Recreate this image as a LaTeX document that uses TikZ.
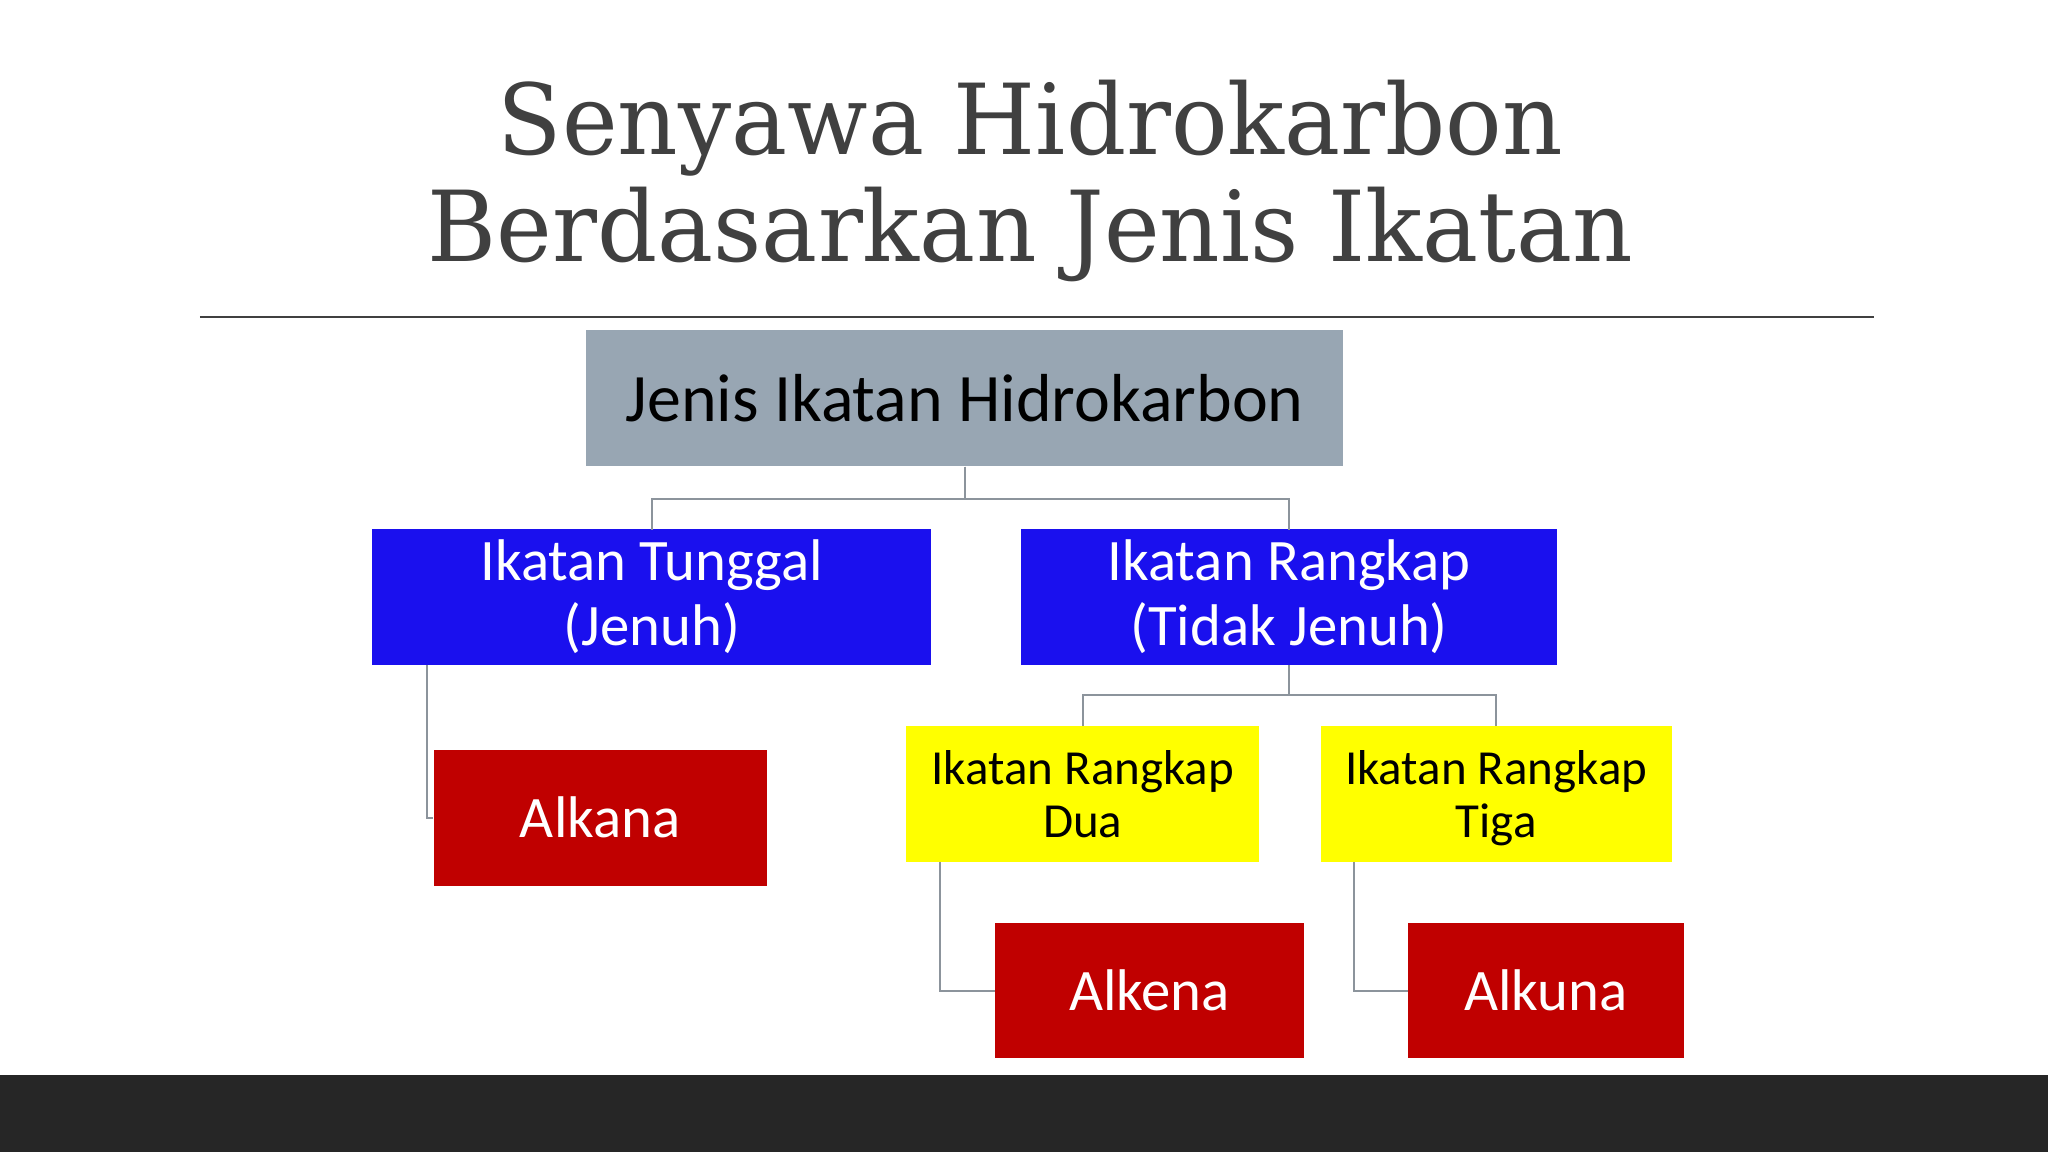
\documentclass[tikz,border=0pt]{standalone}
\usepackage{fontspec}
\setmainfont{Carlito}
\newfontfamily\titlefont[FakeStretch=0.96]{DejaVu Serif}
\definecolor{titlegray}{HTML}{404040}
\definecolor{boxgray}{HTML}{98A6B3}
\definecolor{boxblue}{HTML}{1A10EE}
\definecolor{boxred}{HTML}{C00000}
\definecolor{boxyellow}{HTML}{FFFF00}
\definecolor{linkgray}{HTML}{8C949C}
\definecolor{barcol}{HTML}{262626}
\tikzset{
  box/.style={rectangle, inner sep=0pt, align=center, minimum height=104pt},
  graybox/.style={box, fill=boxgray, text=black, font=\fontsize{52}{60}\selectfont},
  bluebox/.style={box, fill=boxblue, text=white, font=\fontsize{45}{50}\selectfont},
  redbox/.style={box, fill=boxred, text=white, font=\fontsize{45}{50}\selectfont},
  yellowbox/.style={box, fill=boxyellow, text=black, font=\fontsize{37.5}{41}\selectfont},
  link/.style={draw=linkgray, line width=1.6pt},
  titletext/.style={anchor=base, text=titlegray, inner sep=0pt, font=\titlefont\fontsize{75}{82}\selectfont}
}
\begin{document}
\begin{tikzpicture}[x=1pt,y=-1pt]
\useasboundingbox (0,0) rectangle (1568,882);
\fill[white] (0,0) rectangle (1568,882);
\fill[barcol] (0,823) rectangle (1568,882);

\node[titletext] (t1) at (789,118) {Senyawa Hidrokarbon};
\node[titletext] (t2) at (789,200) {Berdasarkan Jenis Ikatan};
\draw[titlegray, line width=1.4pt] (153,243) -- (1435,243);

\node[graybox, minimum width=579pt] (g) at (738.5,305) {Jenis Ikatan Hidrokarbon};
\node[bluebox, minimum width=428pt] (b1) at (499,457) {Ikatan Tunggal\\(Jenuh)};
\node[bluebox, minimum width=410pt] (b2) at (987,457) {Ikatan Rangkap\\(Tidak Jenuh)};
\node[redbox, minimum width=255pt] (alka) at (459.5,626) {Alkana};
\node[yellowbox, minimum width=270pt] (y1) at (829,608) {Ikatan Rangkap\\Dua};
\node[yellowbox, minimum width=269pt] (y2) at (1145.5,608) {Ikatan Rangkap\\\raisebox{0pt}[\height][0pt]{Tiga}};
\node[redbox, minimum width=236pt, minimum height=103pt] (alke) at (880,758.5) {Alkena};
\node[redbox, minimum width=211pt, minimum height=103pt] (alku) at (1183.5,758.5) {Alkuna};

\draw[link] (g.south) -- ++(0,25) -| ([yshift=-1pt]b1.north);
\draw[link] (g.south) -- ++(0,25) -| ([yshift=-1pt]b2.north);
\draw[link] ([xshift=42pt]b1.south west) |- (alka.west);
\draw[link] (b2.south) -- ++(0,23) -| (y1.north);
\draw[link] (b2.south) -- ++(0,23) -| (y2.north);
\draw[link] ([xshift=26pt]y1.south west) |- (alke.west);
\draw[link] ([xshift=26pt]y2.south west) |- (alku.west);
\end{tikzpicture}
\end{document}
